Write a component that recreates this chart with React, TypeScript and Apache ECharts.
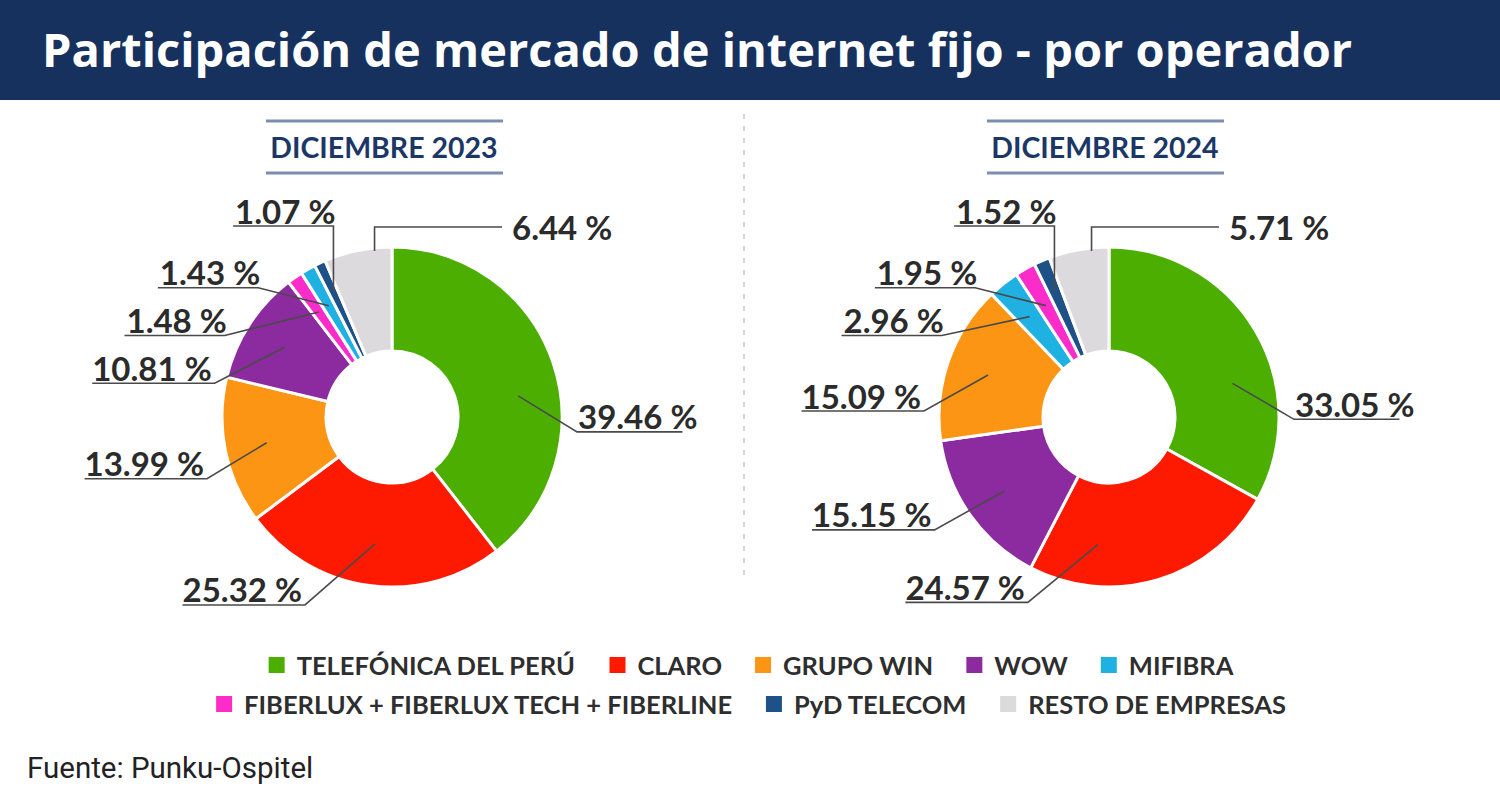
import React, { useEffect, useRef } from "react";
import * as echarts from "echarts";

// ---------- data ----------
const OPERATORS = [
  "TELEFÓNICA DEL PERÚ",
  "CLARO",
  "GRUPO WIN",
  "WOW",
  "MIFIBRA",
  "FIBERLUX + FIBERLUX TECH + FIBERLINE",
  "PyD TELECOM",
  "RESTO DE EMPRESAS",
];
const OPERATOR_COLORS = [
  "#4cae00",
  "#fd1a00",
  "#fd9514",
  "#8c2aa0",
  "#1fb1e2",
  "#fb2cc9",
  "#1f5189",
  "#dcdadd",
];
const LEGEND_ROW_1 = OPERATORS.slice(0, 5);
const LEGEND_ROW_2 = OPERATORS.slice(5);

const PERIODS = ["DICIEMBRE 2023", "DICIEMBRE 2024"];

// slice order as drawn, clockwise from the top
const NAMES_2023 = [
  "TELEFÓNICA DEL PERÚ",
  "CLARO",
  "GRUPO WIN",
  "WOW",
  "FIBERLUX + FIBERLUX TECH + FIBERLINE",
  "MIFIBRA",
  "PyD TELECOM",
  "RESTO DE EMPRESAS",
];
const VALUES_2023 = [39.46, 25.32, 13.99, 10.81, 1.48, 1.43, 1.07, 6.44];

const NAMES_2024 = [
  "TELEFÓNICA DEL PERÚ",
  "CLARO",
  "WOW",
  "GRUPO WIN",
  "MIFIBRA",
  "FIBERLUX + FIBERLUX TECH + FIBERLINE",
  "PyD TELECOM",
  "RESTO DE EMPRESAS",
];
const VALUES_2024 = [33.05, 24.57, 15.15, 15.09, 2.96, 1.95, 1.52, 5.71];

const TITLE = "Participación de mercado de internet fijo - por operador";
const SOURCE = "Fuente: Punku-Ospitel";

// ---------- layout ----------
const CENTERS = [
  [392, 417],
  [1109, 417],
];
const R_OUT = 170;
const R_IN = 66;
const SMALL = 5;
const LABEL_FONT = "Lato";

const colorOf = (name: string) => OPERATOR_COLORS[OPERATORS.indexOf(name)];

const makeLabelLayout = (values: number[], center: number[]) => (params: any) => {
  const i = params.dataIndex;
  const n = values.length;
  const total = values.reduce((a, b) => a + b, 0);
  let acc = 0;
  for (let k = 0; k < i; k++) acc += values[k];
  const a0 = (acc / total) * 360;
  const a1 = ((acc + values[i]) / total) * 360;
  const am = (a0 + a1) / 2;
  const rad = (d: number) => (d * Math.PI) / 180;
  const pt = (deg: number, rho: number) => [
    center[0] + rho * Math.sin(rad(deg)),
    center[1] - rho * Math.cos(rad(deg)),
  ];
  const w = params.labelRect ? params.labelRect.width : 100;

  if (i === n - 1) {
    const S = pt(a1 - 6, R_OUT - 3);
    const B = [S[0], center[1] - R_OUT - 20];
    const E = [center[0] + 110, B[1]];
    return {
      x: E[0] + 10,
      y: E[1],
      align: "left",
      verticalAlign: "middle",
      labelLinePoints: [S, B, E],
    };
  }
  const smallIdx = values
    .map((v, k) => (k < n - 1 && v < SMALL ? k : -1))
    .filter((k) => k >= 0);
  const k = smallIdx.indexOf(i);
  if (k >= 0) {
    const last = k === smallIdx.length - 1;
    const S = pt(am, last ? 138 : 128);
    const B = last ? [S[0], center[1] - R_OUT - 21] : pt(296 + 18 * k, 186);
    const E = [B[0] - w, B[1]];
    return {
      x: B[0] + 2,
      y: B[1] + 1,
      align: "right",
      verticalAlign: "bottom",
      labelLinePoints: [S, B, E],
    };
  }
  const side = Math.sin(rad(am)) > 0.35 ? 1 : -1;
  const as = side > 0 ? (am + 90) / 2 : Math.max(am, 185);
  const S = pt(as, 128);
  let bx = S[0] + side * 70;
  if (Math.abs(bx - center[0]) > 185) bx = center[0] + side * 185;
  const by = S[1] + 36 + 26 * Math.pow(Math.max(0, -Math.cos(rad(am))), 4);
  const B = [bx, by];
  if (side > 0) {
    return {
      x: bx + 1,
      y: by + 1,
      align: "left",
      verticalAlign: "bottom",
      labelLinePoints: [S, B, [bx + w - 14, by]],
    };
  }
  return {
    x: bx - 3,
    y: by + 1,
    align: "right",
    verticalAlign: "bottom",
    labelLinePoints: [S, B, [bx - w - 3, by]],
  };
};

// coloured donut (no labels)
const pieSeries = (names: string[], values: number[], center: number[]) => ({
  type: "pie",
  z: 2,
  center,
  radius: [R_IN, R_OUT],
  startAngle: 90,
  clockwise: true,
  avoidLabelOverlap: false,
  data: names.map((name, i) => ({
    name,
    value: values[i],
    itemStyle: { color: colorOf(name) },
  })),
  itemStyle: { borderColor: "#ffffff", borderWidth: 3 },
  label: { show: false },
  labelLine: { show: false },
  emphasis: { disabled: true },
});

// transparent twin on top that carries the labels and their leader lines
const labelSeries = (names: string[], values: number[], center: number[]) => ({
  type: "pie",
  z: 5,
  silent: true,
  center,
  radius: [R_IN, R_OUT],
  startAngle: 90,
  clockwise: true,
  avoidLabelOverlap: false,
  data: names.map((name, i) => ({
    name,
    value: values[i],
    itemStyle: { color: "rgba(0,0,0,0)" },
  })),
  itemStyle: { borderWidth: 0 },
  label: {
    show: true,
    position: "outside",
    formatter: (p: any) => `${Number(p.value).toFixed(2)} %`,
    fontFamily: LABEL_FONT,
    fontWeight: "bold",
    fontSize: 33,
    lineHeight: 33,
    color: "#2b2b2b",
  },
  labelLine: {
    show: true,
    showAbove: true,
    length: 10,
    length2: 10,
    lineStyle: { color: "#4a4a4a", width: 1.6 },
  },
  labelLayout: makeLabelLayout(values, center),
  emphasis: { disabled: true },
});

const subtitle = (text: string, cx: number) => [
  {
    type: "line",
    shape: { x1: cx - 118, y1: 121, x2: cx + 119, y2: 121 },
    style: { stroke: "#7b8db0", lineWidth: 3 },
  },
  {
    type: "line",
    shape: { x1: cx - 118, y1: 173, x2: cx + 119, y2: 173 },
    style: { stroke: "#7b8db0", lineWidth: 3 },
  },
  {
    type: "text",
    x: cx,
    y: 147,
    style: {
      text,
      fill: "#1c3766",
      fontFamily: LABEL_FONT,
      fontWeight: "bold",
      fontSize: 28.5,
      textAlign: "center",
      textVerticalAlign: "middle",
    },
  },
];

const legendBase = {
  left: "center",
  icon: "rect",
  itemWidth: 18,
  itemHeight: 18,
  itemGap: 31,
  selectedMode: false,
  textStyle: {
    fontFamily: LABEL_FONT,
    fontWeight: "bold",
    fontSize: 25.5,
    color: "#2e2e2e",
    padding: [0, 0, 0, 6],
  },
};

export default function App() {
  const ref = useRef<HTMLDivElement>(null);
  useEffect(() => {
    if (!ref.current) return;
    const chart = echarts.init(ref.current, undefined, { renderer: "svg" });
    chart.setOption({
      animation: false,
      backgroundColor: "#ffffff",
      legend: [
        { ...legendBase, data: LEGEND_ROW_1, top: 647 },
        { ...legendBase, data: LEGEND_ROW_2, top: 686 },
      ],
      graphic: [
        {
          type: "rect",
          shape: { x: 0, y: 0, width: 1500, height: 100 },
          style: { fill: "#16315d" },
        },
        {
          type: "text",
          x: 42,
          y: 49,
          style: {
            text: TITLE,
            fill: "#ffffff",
            fontFamily: "Open Sans",
            fontWeight: "bold",
            fontSize: 47,
            textVerticalAlign: "middle",
          },
        },
        ...subtitle(PERIODS[0], CENTERS[0][0] - 8),
        ...subtitle(PERIODS[1], CENTERS[1][0] - 4),
        {
          type: "line",
          shape: { x1: 744, y1: 114, x2: 744, y2: 575 },
          style: { stroke: "#d6d6d6", lineWidth: 2, lineDash: [5, 7] },
        },
        {
          type: "text",
          x: 27,
          y: 768,
          style: {
            text: SOURCE,
            fill: "#222222",
            fontFamily: "Roboto",
            fontSize: 29.5,
            textVerticalAlign: "middle",
          },
        },
      ],
      series: [
        pieSeries(NAMES_2023, VALUES_2023, CENTERS[0]),
        pieSeries(NAMES_2024, VALUES_2024, CENTERS[1]),
        labelSeries(NAMES_2023, VALUES_2023, CENTERS[0]),
        labelSeries(NAMES_2024, VALUES_2024, CENTERS[1]),
      ],
    });
    return () => chart.dispose();
  }, []);
  return (
    <div
      ref={ref}
      style={{ position: "absolute", left: 0, top: 0, width: 1500, height: 800 }}
    />
  );
}
